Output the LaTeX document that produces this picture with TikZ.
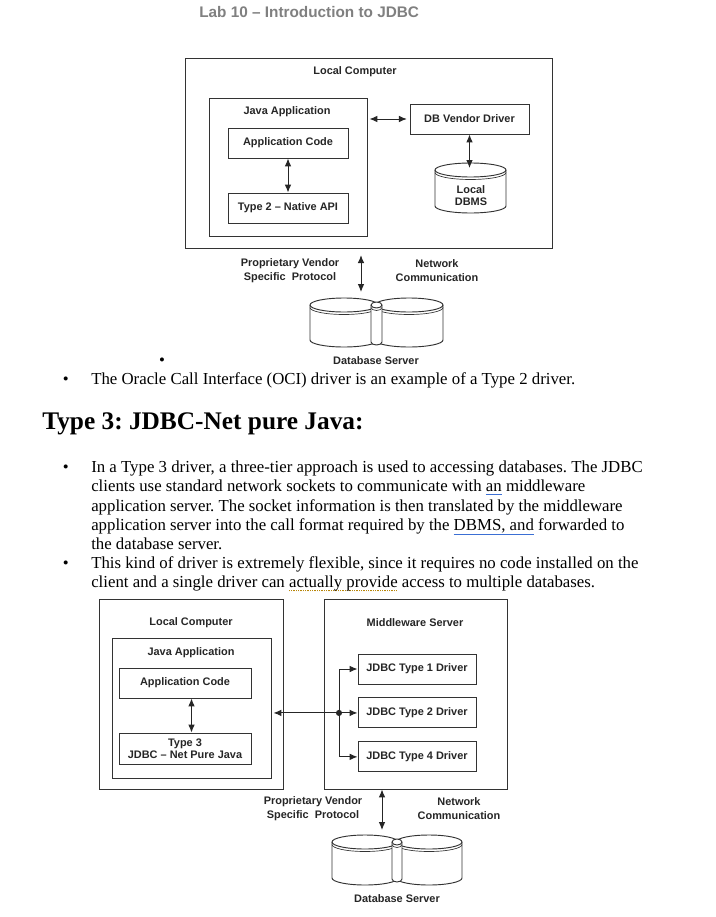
\documentclass[tikz,border=0pt]{standalone}
\usepackage{fontspec}
\setmainfont{Liberation Serif}
\newfontfamily\arialfont{Liberation Sans}
\usetikzlibrary{arrows.meta, positioning}
\frenchspacing

\definecolor{ulblue}{HTML}{3B6FD4}
\definecolor{ulgold}{HTML}{B8860B}
\definecolor{headgray}{HTML}{808080}

\newcommand{\dfont}{\arialfont\bfseries\fontsize{8.2}{10.5}\selectfont}
\newcommand{\blueul}[1]{\textcolor{ulblue}{\underline{\textcolor{black}{#1}}}}
\newcommand{\dotul}[1]{\leavevmode\setbox0\hbox{#1}\rlap{\textcolor{ulgold}{\hbox to \wd0{\xleaders\hbox{\rule[-2.6pt]{0.7pt}{0.7pt}\kern0.6pt}\hfil}}}#1}

% disk stack: centre x, top ellipse centre y, x radius, y radius, height (all px)
\newcommand{\dbdisk}[5]{%
  \filldraw[fill=white, draw=black!80, line width=0.7pt]
    ({#1-#3},#2) -- ({#1-#3},{#2+#5})
    arc[start angle=180, end angle=360, x radius={#3*0.75pt}, y radius={#4*0.75pt}]
    -- ({#1+#3},#2)
    arc[start angle=0, end angle=180, x radius={#3*0.75pt}, y radius={#4*0.75pt}] -- cycle;
  \draw[black!80, line width=0.7pt] ({#1-#3},#2)
    arc[start angle=180, end angle=360, x radius={#3*0.75pt}, y radius={#4*0.75pt}];
  \draw[black!80, line width=0.5pt] ({#1-#3},{#2+2.5})
    arc[start angle=180, end angle=360, x radius={#3*0.75pt}, y radius={#4*0.75pt}];
}

\tikzset{sz/.style 2 args={minimum width=#1*0.75pt, minimum height=#2*0.75pt}}

\begin{document}
\begin{tikzpicture}[x=0.75pt, y=-0.75pt]
\tikzstyle{box}=[rectangle, draw=black!80, line width=0.7pt, inner sep=0pt, font=\dfont, text=black!85, align=center]
\tikzstyle{lbl}=[font=\dfont, text=black!85, align=center, inner sep=0pt]
\tikzstyle{connect}=[{Latex[length=6pt,width=5pt]}-{Latex[length=6pt,width=5pt]}, line width=0.75pt, draw=black!85]
\tikzstyle{feed}=[-{Latex[length=6pt,width=5pt]}, line width=0.75pt, draw=black!85]
\tikzstyle{body}=[font=\fontsize{12.6}{14.4}\selectfont, anchor=base west, inner sep=0pt]

\useasboundingbox (0,0) rectangle (716,917);
\fill[white] (0,0) rectangle (716,917);

% 1. Page text
%%%%%%%%%%%%%%
\node[font=\arialfont\bfseries\fontsize{11.5}{13}\selectfont, text=headgray, anchor=west, inner sep=0pt] (title) at (199,12) {Lab 10 – Introduction to JDBC};

% 2. Type 2 diagram
%%%%%%%%%%%%%%%%%%%
\node[box, sz={367}{190}] (lc1) at (368.5,153) {};
\node[lbl] (lc1t) at (355,72) {Local Computer};
\node[box, sz={158}{138}] (ja1) at (288,167) {};
\node[lbl] (ja1t) at (287,112) {Java Application};
\node[box, sz={120}{30}] (ac1) at (288,143) {Application Code};
\node[box, sz={120}{30}] (t2) at (288,208) {Type 2 – Native API};
\node[box, sz={119}{30}] (dbv) at (469.5,119) {DB Vendor Driver};
\dbdisk{470.5}{170}{35.5}{7}{36}
\node[lbl] (dbms) at (471,196) {Local\\[-1.5pt]DBMS};
\coordinate (dbmstop) at (471,168);

\node[lbl] (prop1) at (290,271) {Proprietary Vendor\\Specific\ \ Protocol};
\node[lbl] (net1) at (437,271) {Network\\Communication};
\dbdisk{344}{305}{34}{7}{35}
\dbdisk{409}{305}{34}{7}{35}
\dbdisk{376.5}{305}{5.5}{3}{37}
\node[lbl] (srv1t) at (376,361) {Database Server};
\coordinate (srv1) at (361,292);

\path (ac1.south) edge [connect] (t2.north)
      (ja1.east |- dbv.west) edge [connect, shorten <=1.5pt, shorten >=2pt] (dbv.west)
      (dbv.south) edge [connect] (dbv.south |- dbmstop)
      (lc1.south -| srv1) edge [connect, shorten <=5pt] (srv1);

\node[font=\fontsize{12.6}{14}\selectfont, inner sep=0pt] (stray) at (162,362) {\textbullet};

% 3. Body text
%%%%%%%%%%%%%%
\node[body] (bul0) at (62.5,384) {\textbullet};
\node[body] (oci) at (91,384) {The Oracle Call Interface (OCI) driver is an example of a Type 2 driver.};
\node[font=\bfseries\fontsize{19}{22}\selectfont, anchor=base west, inner sep=0pt] (head) at (42,429) {Type 3: JDBC-Net pure Java:};

\node[body] (bul1) at (62.5,472.7) {\textbullet};
\node[body] (bul2) at (62.5,568.7) {\textbullet};
\foreach \txt [count=\i from 0] in {
  {In a Type 3 driver, a three-tier approach is used to accessing databases. The JDBC},
  {clients use standard network sockets to communicate with \blueul{an} middleware},
  {application server. The socket information is then translated by the middleware},
  {application server into the call format required by the \blueul{DBMS, and} forwarded to},
  {the database server.},
  {This kind of driver is extremely flexible, since it requires no code installed on the},
  {client and a single driver can \dotul{actually provide} access to multiple databases.}}
  \node[body] (line\i) at (91,{472.7+19.2*\i}) {\txt};

% 4. Type 3 diagram
%%%%%%%%%%%%%%%%%%%
\node[box, sz={184}{190}] (lc2) at (191,694) {};
\node[lbl] (lc2t) at (191,623) {Local Computer};
\node[box, sz={159}{140}] (ja2) at (191.5,708) {};
\node[lbl] (ja2t) at (191,653) {Java Application};
\node[box, sz={132}{30}] (ac2) at (185,683) {Application Code};
\node[box, sz={132}{31}] (t3) at (185,748.5) {Type 3\\[-1.5pt]JDBC – Net Pure Java};

\node[box, sz={183}{190}] (mw) at (415.5,694) {};
\node[lbl] (mwt) at (415,623) {Middleware Server};
\node[box, sz={118}{30}] (d1) at (417,669) {JDBC Type 1 Driver};
\node[box, sz={118}{30}, below=9.75pt of d1] (d2) {JDBC Type 2 Driver};
\node[box, sz={118}{30}, below=9.75pt of d2] (d4) {JDBC Type 4 Driver};
\coordinate (hubx) at (339,0);
\coordinate (hub) at (hubx |- d2.west);

\node[lbl] (prop2) at (313,809) {Proprietary Vendor\\Specific\ \ Protocol};
\node[lbl] (net2) at (459,809) {Network\\Communication};
\dbdisk{365}{842}{33}{7}{36}
\dbdisk{429}{842}{33}{7}{36}
\dbdisk{397}{842}{5}{3}{37}
\node[lbl] (srv2t) at (397,899) {Database Server};
\coordinate (srv2) at (382,830);

\path (ac2.south -| ja2.center) edge [connect] (t3.north -| ja2.center)
      (ja2.east |- hub) edge [connect, shorten <=1.5pt] (d2.west)
      (mw.south -| srv2) edge [connect] (srv2);
\draw[feed] (hub) |- (d1.west);
\draw[feed] (hub) |- (d4.west);
\fill[black!85] (hub) circle [radius=2.3pt];

\end{tikzpicture}
\end{document}
